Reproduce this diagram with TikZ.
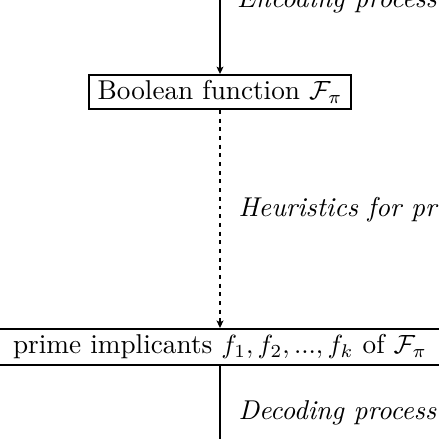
\documentclass[tikz,border=0pt]{standalone}
\usetikzlibrary{arrows.meta}
\newcommand{\mysize}{\fontsize{10.35pt}{12.5pt}\selectfont}
\begin{document}
\begin{tikzpicture}[x=0.38pt,y=-0.38pt, line width=0.76pt,
  box/.style={draw, inner sep=0pt, anchor=center, font=\mysize},
  lbl/.style={anchor=base west, font=\mysize\itshape, inner sep=0pt},
  tip/.style={-{Stealth[length=2.8pt,width=2.6pt,inset=0.6pt]}}]
\clip (0,0) rectangle (439,439);
\node[box, minimum width=99.4pt, minimum height=12.9pt] (bf) at (220,92) {Boolean function $\mathcal{F}_\pi$};
\node[box, minimum width=180pt, minimum height=13.7pt] (pi) at (220,347) {prime implicants $f_1, f_2, ..., f_k$ of $\mathcal{F}_\pi$};
\coordinate (top) at (220,-40);
\coordinate (bot) at (220,480);
\draw[tip] (top) -- (bf.north);
\draw[tip, dash pattern=on 1.5pt off 1.8pt] (bf.south) -- (pi.north);
\draw (pi.south) -- (bot);
\node[lbl] (enc) at (236,7.3) {Encoding process};
\node[lbl] (heu) at (237.5,216.7) {Heuristics for pr};
\node[lbl] (dec) at (237.5,419.3) {Decoding process};
\end{tikzpicture}
\end{document}
